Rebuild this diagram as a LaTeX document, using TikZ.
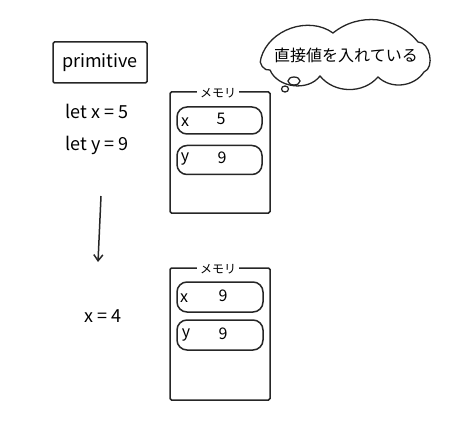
\documentclass[tikz,border=0pt]{standalone}
\usepackage{fontspec}
\setmainfont{Noto Sans CJK JP}
\usetikzlibrary{arrows.meta}
\begin{document}
\begin{tikzpicture}[x=1pt,y=-1pt,line width=1.5pt,
  ink/.style={draw=black!85},
  txt/.style={font=\fontsize{18}{21}\selectfont,inner sep=0pt},
  memtxt/.style={font=\fontsize{16}{18}\selectfont,inner sep=0pt},
  memlabel/.style={font=\fontsize{12}{14}\selectfont,fill=white,inner xsep=3pt,inner ysep=1pt},
  membox/.style={ink,rounded corners=1.5pt},
  cell/.style={ink,rounded corners=10pt},
  bubble/.style={ink,line width=1.3pt}]
\useasboundingbox (0,0) rectangle (474,433);
% primitive box
\node[ink,rounded corners=1.5pt,minimum width=94pt,minimum height=41pt,txt] (prim) at (100,62.5) {primitive};
\node[txt] (letx) at (97,111) {let x = 5};
\node[txt] (lety) at (97,145) {let y = 9};
% top memory
\draw[membox] (170,92) rectangle (270,213);
\node[memlabel] (mem1) at (218,93) {メモリ};
\node[cell,minimum width=85pt,minimum height=27pt] (r1a) at (219.5,120.5) {};
\node[cell,minimum width=85pt,minimum height=29pt] (r1b) at (219.5,160) {};
\node[memtxt] (x1) at (185,122) {x};
\node[memtxt] (v1) at (221,119) {5};
\node[memtxt] (y1) at (185,159) {y};
\node[memtxt] (w1) at (222,158) {9};
% arrow
\coordinate (as) at (101,196);
\coordinate (ae) at (98,262);
\draw[ink,-{Straight Barb[length=6pt,width=9pt]}] (as) -- (ae);
\node[txt] (xeq) at (103,316) {x = 4};
% bottom memory
\draw[membox] (170,268) rectangle (270,400);
\node[memlabel] (mem2) at (218,269) {メモリ};
\node[cell,minimum width=86pt,minimum height=30pt] (r2a) at (220,297) {};
\node[cell,minimum width=86pt,minimum height=30pt] (r2b) at (220,335) {};
\node[memtxt] (x2) at (184,298) {x};
\node[memtxt] (v2) at (223,296) {9};
\node[memtxt] (y2) at (186,335) {y};
\node[memtxt] (w2) at (223,334) {9};
% thought cloud
\draw[bubble] (261,58) to[bend left=55] (333,33) to[bend left=45] (418,42)
  to[bend left=80] (424,72) to[bend left=50] (378,77) to[bend left=50] (320,76)
  to[bend left=60] (270,70) to[bend left=70] (261,58);
\node[font=\fontsize{16}{19}\selectfont] (cltxt) at (346,55) {直接値を入れている};
\draw[bubble] (294,81) ellipse (6pt and 4pt);
\draw[bubble] (285,89) ellipse (3.5pt and 3pt);
\end{tikzpicture}
\end{document}
